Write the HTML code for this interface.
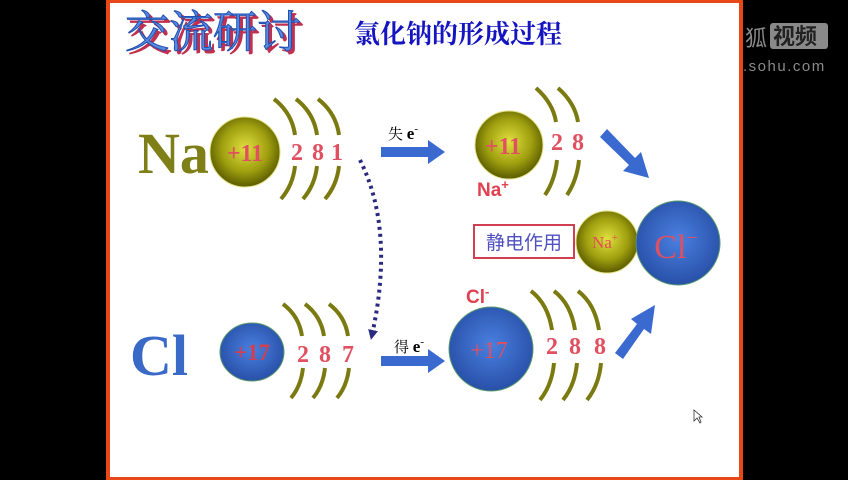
<!DOCTYPE html>
<html><head><meta charset="utf-8"><style>
html,body{margin:0;padding:0;background:#000;width:848px;height:480px;overflow:hidden}
svg{display:block}
.s{font-family:"Liberation Serif","Noto Serif CJK SC",serif}
.a{font-family:"Liberation Sans","Noto Sans CJK SC",sans-serif}
</style></head><body>
<svg width="848" height="480" viewBox="0 0 848 480" xmlns="http://www.w3.org/2000/svg">
<defs>
<radialGradient id="y" cx="50%" cy="45%" r="55%"><stop offset="0" stop-color="#e0e040"/><stop offset="0.6" stop-color="#a0a010"/><stop offset="1" stop-color="#5a5a00"/></radialGradient>
<radialGradient id="b" cx="50%" cy="45%" r="55%"><stop offset="0" stop-color="#4a80e0"/><stop offset="1" stop-color="#2850a8"/></radialGradient>
<marker id="ah" markerWidth="10" markerHeight="10" refX="5" refY="5" orient="auto" markerUnits="userSpaceOnUse"><path d="M0,0 L10,5 L0,10 z" fill="#2a2a80"/></marker>
</defs>
<rect x="106" y="0" width="637" height="480" fill="#e84818"/>
<rect x="110" y="3" width="629" height="474" fill="#fff"/>
<text x="745" y="46" class="a" font-size="22" fill="#8a8a8a">狐</text>
<rect x="770" y="23" width="58" height="26" rx="3" fill="#8a8a8a"/>
<text x="773" y="44" class="a" font-size="22" font-weight="bold" fill="#222">视频</text>
<text x="743" y="71" class="a" font-size="15" fill="#8a8a8a" letter-spacing="1.5">.sohu.com</text>
<text x="128" y="50" class="s" font-size="44" fill="#c03050" stroke="#c03050" stroke-width="1">交流研讨</text>
<text x="125" y="47" class="s" font-size="44" fill="#5a8ae0" stroke="#2050b0" stroke-width="1">交流研讨</text>
<text x="354" y="43" class="s" font-size="26" font-weight="bold" fill="#1414c0">氯化钠的形成过程</text>
<text x="138" y="173" class="s" font-size="58" font-weight="bold" fill="#7f7f18">Na</text>
<circle cx="245" cy="152" r="35" fill="url(#y)" stroke="#e0e080"/>
<text x="245" y="161" class="s" font-size="24" font-weight="bold" fill="#e05060" text-anchor="middle">+11</text>
<g fill="none" stroke="#7a7a10" stroke-width="4">
<path d="M274,99 Q292,113 295,135"/><path d="M295,166 Q293,185 281,199"/>
<path d="M296,99 Q314,113 317,135"/><path d="M317,166 Q315,185 303,199"/>
<path d="M318,99 Q336,113 339,135"/><path d="M339,166 Q337,185 325,199"/>
</g>
<text x="297" y="160" class="s" font-size="24" font-weight="bold" fill="#e05060" text-anchor="middle">2</text>
<text x="318" y="160" class="s" font-size="24" font-weight="bold" fill="#e05060" text-anchor="middle">8</text>
<text x="337" y="160" class="s" font-size="24" font-weight="bold" fill="#e05060" text-anchor="middle">1</text>
<text x="388" y="139" class="s" font-size="15" fill="#000">失 <tspan font-weight="bold" font-size="17">e</tspan><tspan font-size="11" dy="-7">-</tspan></text>
<path d="M381,147 L428,147 L428,140 L445,152 L428,164 L428,157 L381,157 z" fill="#3a6ad0"/>
<path d="M360,160 Q395,230 372,335" fill="none" stroke="#2a2a80" stroke-width="4" stroke-dasharray="3,4" marker-end="url(#ah)"/>
<circle cx="509" cy="145" r="34" fill="url(#y)" stroke="#e0e080"/>
<text x="503" y="154" class="s" font-size="24" font-weight="bold" fill="#e05060" text-anchor="middle">+11</text>
<g fill="none" stroke="#7a7a10" stroke-width="4">
<path d="M536,88 Q553,103 556,122"/><path d="M557,160 Q555,180 545,195"/>
<path d="M558,88 Q575,103 578,122"/><path d="M579,160 Q577,180 567,195"/>
</g>
<text x="557" y="150" class="s" font-size="24" font-weight="bold" fill="#e05060" text-anchor="middle">2</text>
<text x="578" y="150" class="s" font-size="24" font-weight="bold" fill="#e05060" text-anchor="middle">8</text>
<text x="477" y="196" class="a" font-size="19" font-weight="bold" fill="#e04050">Na<tspan font-size="13" dy="-7">+</tspan></text>
<path d="M600,137 L607,129 L635,158 L641,152 L649,178 L623,171 L629,165 z" fill="#3a6ad0"/>
<rect x="474" y="225" width="100" height="33" fill="#fff" stroke="#d04050" stroke-width="2"/>
<text x="524" y="249" class="a" font-size="19" fill="#5050c0" text-anchor="middle">静电作用</text>
<circle cx="607" cy="242" r="31" fill="url(#y)" stroke="#e0e080"/>
<text x="605" y="248" class="s" font-size="17" fill="#e05050" text-anchor="middle">Na<tspan font-size="11" dy="-7">+</tspan></text>
<circle cx="678" cy="243" r="42" fill="url(#b)" stroke="#5a9a70"/>
<text x="676" y="258" class="s" font-size="34" fill="#e05060" text-anchor="middle">Cl<tspan font-size="20" dy="-14">−</tspan></text>
<text x="130" y="375" class="s" font-size="58" font-weight="bold" fill="#3a6ac8">Cl</text>
<ellipse cx="252" cy="352" rx="32" ry="29" fill="url(#b)" stroke="#5a9a70"/>
<text x="252" y="360" class="s" font-size="23" font-weight="bold" fill="#d04050" text-anchor="middle">+17</text>
<g fill="none" stroke="#7a7a10" stroke-width="4">
<path d="M283,304 Q299,316 302,336"/><path d="M303,368 Q301,386 291,398"/>
<path d="M305,304 Q321,316 324,336"/><path d="M325,368 Q323,386 313,398"/>
<path d="M329,304 Q345,316 348,336"/><path d="M349,368 Q347,386 337,398"/>
</g>
<text x="303" y="362" class="s" font-size="24" font-weight="bold" fill="#e05060" text-anchor="middle">2</text>
<text x="325" y="362" class="s" font-size="24" font-weight="bold" fill="#e05060" text-anchor="middle">8</text>
<text x="348" y="362" class="s" font-size="24" font-weight="bold" fill="#e05060" text-anchor="middle">7</text>
<text x="394" y="352" class="s" font-size="15" fill="#000">得 <tspan font-weight="bold" font-size="17">e</tspan><tspan font-size="11" dy="-7">-</tspan></text>
<path d="M381,356 L428,356 L428,349 L445,361 L428,373 L428,366 L381,366 z" fill="#3a6ad0"/>
<circle cx="491" cy="349" r="42" fill="url(#b)" stroke="#5a9a70"/>
<text x="489" y="358" class="s" font-size="24" fill="#e05060" text-anchor="middle">+17</text>
<text x="466" y="303" class="a" font-size="19" font-weight="bold" fill="#e04050">Cl<tspan font-size="13" dy="-7">-</tspan></text>
<g fill="none" stroke="#7a7a10" stroke-width="4">
<path d="M531,291 Q548,304 552,330"/><path d="M554,363 Q552,385 540,400"/>
<path d="M554,291 Q571,304 575,330"/><path d="M577,363 Q575,385 563,400"/>
<path d="M578,291 Q595,304 599,330"/><path d="M601,363 Q599,385 587,400"/>
</g>
<text x="552" y="354" class="s" font-size="24" font-weight="bold" fill="#e05060" text-anchor="middle">2</text>
<text x="575" y="354" class="s" font-size="24" font-weight="bold" fill="#e05060" text-anchor="middle">8</text>
<text x="600" y="354" class="s" font-size="24" font-weight="bold" fill="#e05060" text-anchor="middle">8</text>
<path d="M615,353 L623,359 L644,329 L651,334 L655,305 L631,319 L637,324 z" fill="#3a6ad0"/>
<path d="M694,410 L694,421 L697,418 L700,423 L701,422 L699,417 L702,417 z" fill="#fff" stroke="#333" stroke-width="0.8"/>
</svg>
</body></html>
